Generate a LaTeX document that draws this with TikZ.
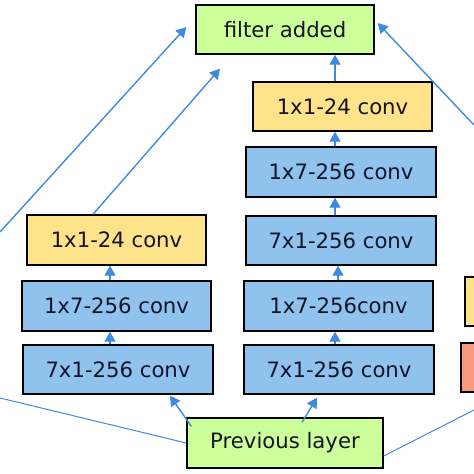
\documentclass[tikz,border=0pt]{standalone}
\usepackage{fontspec}
\setmainfont{DejaVu Sans}
\usetikzlibrary{arrows.meta}

\definecolor{boxgreen}{HTML}{CCFF99}
\definecolor{boxyellow}{HTML}{FFE38A}
\definecolor{boxblue}{HTML}{8FC3EE}
\definecolor{boxred}{HTML}{F99A7E}
\definecolor{linkblue}{HTML}{3D8BE0}
\definecolor{txt}{HTML}{151528}

\begin{document}
\begin{tikzpicture}[x=1pt,y=-1pt,
  box/.style={draw=black,line width=1.4pt,minimum height=49pt,inner sep=0pt,
    text=txt,font=\fontsize{21.2}{25}\selectfont},
  arr/.style={linkblue,line width=1.4pt,-{Triangle[width=11pt,length=10pt]}},
  link/.style={linkblue,line width=1pt}]
\useasboundingbox (0,0) rectangle (474,474);
\clip (0,0) rectangle (474,474);

\node[box,fill=boxgreen,minimum width=178pt] (added) at (285,29.5) {filter added\hspace{9pt}};

\node[box,fill=boxyellow,minimum width=179pt] (r1) at (342.5,106.5) {1x1-24 conv\hspace{5pt}};
\node[box,fill=boxblue,minimum width=190pt,minimum height=50pt] (r2) at (341,172) {1x7-256 conv};
\node[box,fill=boxblue,minimum width=190pt] (r3) at (341,240.5) {7x1-256 conv};
\node[box,fill=boxblue,minimum width=189pt,minimum height=50pt] (r4) at (338.5,306) {1x7-256conv};
\node[box,fill=boxblue,minimum width=190pt] (r5) at (339,369.5) {7x1-256 conv};

\node[box,fill=boxyellow,minimum width=179pt,minimum height=50pt] (l1) at (116.5,240) {1x1-24 conv\hspace{5pt}};
\node[box,fill=boxblue,minimum width=189pt,minimum height=50pt] (l2) at (116.5,306) {1x7-256 conv\hspace{5pt}};
\node[box,fill=boxblue,minimum width=190pt] (l3) at (118,369.5) {7x1-256 conv\hspace{5pt}};

\node[box,fill=boxgreen,minimum width=196pt,minimum height=50pt] (prev) at (285,443) {Previous layer};

% boxes cut off at the right edge
\node[box,fill=boxyellow,minimum width=40pt] (e1) at (485,301.5) {};
\node[box,fill=boxred,minimum width=40pt] (e2) at (481,367.5) {};

% free ends outside the picture
\coordinate (farleft) at (0,232);
\coordinate (farright) at (474,125);
\coordinate (outleft) at (0,398);
\coordinate (outright) at (474,410);

% right column
\draw[arr] ([xshift=-7.5pt]r1.north) -- ([xshift=-7.5pt]r1.north |- added.south);
\draw[arr] ([xshift=-6pt]r2.north) -- ([xshift=-6pt]r2.north |- r1.south);
\draw[arr] ([xshift=-6pt]r3.north) -- ([xshift=-6pt]r3.north |- r2.south);
\draw[arr] ([xshift=-0.5pt]r4.north) -- ([xshift=-0.5pt]r4.north |- r3.south);
\draw[arr] ([xshift=-4pt]r5.north) -- ([xshift=-4pt]r5.north |- r4.south);

% left column
\draw[arr] ([xshift=-6.5pt]l2.north) -- ([xshift=-6.5pt]l2.north |- l1.south);
\draw[arr] ([xshift=-8pt]l3.north) -- ([xshift=-8pt]l3.north |- l2.south);

% from previous layer
\draw[arr] ([xshift=5pt,yshift=-9pt]prev.north west) -- ([xshift=52pt,yshift=-1pt]l3.south);
\draw[arr] ([xshift=17pt,yshift=-5pt]prev.north) -- ([xshift=-22pt,yshift=-3pt]r5.south);
\draw[link] (prev.west) -- (outleft);
\draw[link] ([yshift=-13pt]prev.east) -- (outright);

% into filter added
\draw[arr] ([xshift=-23.5pt]l1.north) -- ([xshift=-65pt,yshift=-14pt]added.south);
\draw[arr] (farleft) -- ([xshift=-9pt,yshift=2.5pt]added.west);
\draw[arr] (farright) -- ([xshift=3pt,yshift=6.5pt]added.east);
\end{tikzpicture}
\end{document}
